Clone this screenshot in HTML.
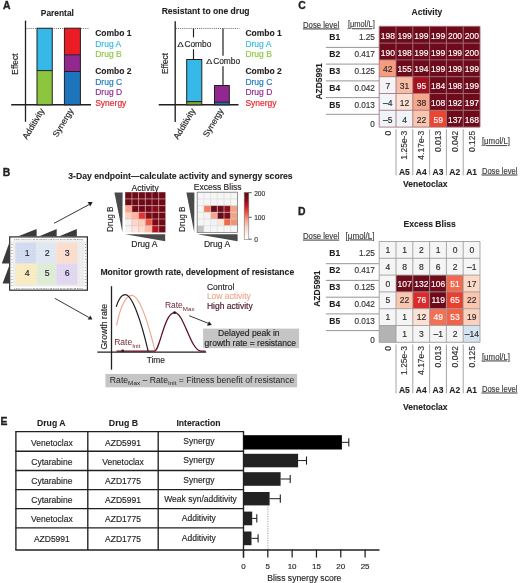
<!DOCTYPE html>
<html><head><meta charset="utf-8"><title>Figure</title>
<style>
html,body{margin:0;padding:0;background:#fff;}
body{width:520px;height:583px;overflow:hidden;}
svg{display:block;}
text{font-family:"Liberation Sans",Arial,Helvetica,sans-serif;}
</style></head>
<body>
<svg width="520" height="583" viewBox="0 0 520 583">
<rect width="520" height="583" fill="#ffffff"/>
<text x="2.90" y="8.90" font-size="10.4" font-weight="bold" fill="#231f20" stroke="#231f20" stroke-width="0.35">A</text>
<text x="40.80" y="15.90" font-size="8.5" font-weight="bold" fill="#231f20" stroke="#231f20" stroke-width="0.1" textLength="33.10" lengthAdjust="spacingAndGlyphs">Parental</text>
<line x1="25.50" y1="20.60" x2="25.50" y2="121.80" stroke="#231f20" stroke-width="1.3"/>
<line x1="11.20" y1="104.80" x2="91.00" y2="104.80" stroke="#231f20" stroke-width="1.4"/>
<line x1="26.50" y1="28.50" x2="89.40" y2="28.50" stroke="#444" stroke-width="0.8" stroke-dasharray="1 1.1"/>
<rect x="37.00" y="28.25" width="15.25" height="42.35" fill="#36b9e9"/>
<rect x="37.00" y="70.60" width="15.25" height="34.20" fill="#8cc63f"/>
<line x1="37.00" y1="70.60" x2="52.25" y2="70.60" stroke="#231f20" stroke-width="1.0"/>
<rect x="37.00" y="28.25" width="15.25" height="76.55" fill="none" stroke="#231f20" stroke-width="1.0"/>
<rect x="64.40" y="28.20" width="16.00" height="26.60" fill="#ec1c24"/>
<rect x="64.40" y="54.80" width="16.00" height="16.70" fill="#92278f"/>
<rect x="64.40" y="71.50" width="16.00" height="33.30" fill="#1c75bc"/>
<line x1="64.40" y1="54.80" x2="80.40" y2="54.80" stroke="#231f20" stroke-width="1.0"/>
<line x1="64.40" y1="71.50" x2="80.40" y2="71.50" stroke="#231f20" stroke-width="1.0"/>
<rect x="64.40" y="28.20" width="16.00" height="76.60" fill="none" stroke="#231f20" stroke-width="1.0"/>
<text x="18.00" y="64.10" font-size="8.3" fill="#231f20" stroke="#231f20" stroke-width="0.15" text-anchor="middle" transform="rotate(-90 18.00 64.10)">Effect</text>
<text x="44.80" y="110.60" font-size="8.6" fill="#231f20" stroke="#231f20" stroke-width="0.15" text-anchor="end" transform="rotate(-59 44.80 110.60)">Additivity</text>
<text x="73.60" y="110.60" font-size="8.6" fill="#231f20" stroke="#231f20" stroke-width="0.15" text-anchor="end" transform="rotate(-59 73.60 110.60)">Synergy</text>
<text x="161.70" y="14.40" font-size="8.5" font-weight="bold" fill="#231f20" stroke="#231f20" stroke-width="0.1" textLength="87.90" lengthAdjust="spacingAndGlyphs">Resistant to one drug</text>
<line x1="175.20" y1="21.20" x2="175.20" y2="122.00" stroke="#231f20" stroke-width="1.35"/>
<line x1="158.70" y1="104.80" x2="238.50" y2="104.80" stroke="#231f20" stroke-width="1.4"/>
<line x1="176.00" y1="28.50" x2="239.40" y2="28.50" stroke="#444" stroke-width="0.8" stroke-dasharray="1 1.1"/>
<rect x="186.70" y="59.50" width="15.10" height="45.30" fill="#36b9e9"/>
<rect x="186.70" y="101.60" width="15.10" height="3.20" fill="#7fae3a"/>
<line x1="186.70" y1="101.60" x2="201.80" y2="101.60" stroke="#231f20" stroke-width="1.1"/>
<rect x="186.70" y="59.50" width="15.10" height="45.30" fill="none" stroke="#231f20" stroke-width="1.0"/>
<rect x="214.50" y="85.50" width="14.80" height="19.30" fill="#92278f"/>
<rect x="214.50" y="102.20" width="14.80" height="2.60" fill="#1c75bc"/>
<line x1="214.50" y1="102.20" x2="229.30" y2="102.20" stroke="#231f20" stroke-width="0.9"/>
<rect x="214.50" y="85.50" width="14.80" height="19.30" fill="none" stroke="#231f20" stroke-width="1.0"/>
<line x1="193.50" y1="28.50" x2="193.50" y2="37.40" stroke="#231f20" stroke-width="1.15"/>
<line x1="193.50" y1="49.30" x2="193.50" y2="59.00" stroke="#231f20" stroke-width="1.15"/>
<line x1="223.00" y1="28.50" x2="223.00" y2="55.80" stroke="#231f20" stroke-width="1.2"/>
<line x1="223.00" y1="66.30" x2="223.00" y2="85.00" stroke="#231f20" stroke-width="1.2"/>
<text transform="translate(177.3 47.0) scale(1.28 0.85)" font-size="7.6" fill="#231f20" stroke="#231f20" stroke-width="0.1">Δ</text>
<text x="184.40" y="47.10" font-size="8.6" fill="#231f20" stroke="#231f20" stroke-width="0.15" textLength="26.90" lengthAdjust="spacingAndGlyphs">Combo</text>
<text transform="translate(206.0 64.0) scale(1.28 0.85)" font-size="7.6" fill="#231f20" stroke="#231f20" stroke-width="0.1">Δ</text>
<text x="213.20" y="64.00" font-size="8.6" fill="#231f20" stroke="#231f20" stroke-width="0.15" textLength="26.90" lengthAdjust="spacingAndGlyphs">Combo</text>
<text x="167.60" y="63.50" font-size="8.3" fill="#231f20" stroke="#231f20" stroke-width="0.15" text-anchor="middle" transform="rotate(-90 167.60 63.50)">Effect</text>
<text x="195.80" y="110.60" font-size="8.6" fill="#231f20" stroke="#231f20" stroke-width="0.15" text-anchor="end" transform="rotate(-59 195.80 110.60)">Additivity</text>
<text x="223.80" y="110.60" font-size="8.6" fill="#231f20" stroke="#231f20" stroke-width="0.15" text-anchor="end" transform="rotate(-59 223.80 110.60)">Synergy</text>
<text x="95.20" y="36.00" font-size="8.5" font-weight="bold" fill="#231f20" stroke="#231f20" stroke-width="0.1">Combo 1</text>
<text x="95.20" y="46.80" font-size="8.5" fill="#36b9e9" stroke="#36b9e9" stroke-width="0.15">Drug A</text>
<text x="95.20" y="57.20" font-size="8.5" fill="#8cc63f" stroke="#8cc63f" stroke-width="0.15">Drug B</text>
<text x="95.20" y="74.10" font-size="8.5" font-weight="bold" fill="#231f20" stroke="#231f20" stroke-width="0.1">Combo 2</text>
<text x="95.20" y="84.50" font-size="8.5" fill="#1c75bc" stroke="#1c75bc" stroke-width="0.15">Drug C</text>
<text x="95.20" y="95.40" font-size="8.5" fill="#92278f" stroke="#92278f" stroke-width="0.15">Drug D</text>
<text x="95.20" y="105.90" font-size="8.5" fill="#ec1c24" stroke="#ec1c24" stroke-width="0.15">Synergy</text>
<text x="245.40" y="36.00" font-size="8.5" font-weight="bold" fill="#231f20" stroke="#231f20" stroke-width="0.1">Combo 1</text>
<text x="245.40" y="46.80" font-size="8.5" fill="#36b9e9" stroke="#36b9e9" stroke-width="0.15">Drug A</text>
<text x="245.40" y="57.20" font-size="8.5" fill="#8cc63f" stroke="#8cc63f" stroke-width="0.15">Drug B</text>
<text x="245.40" y="74.10" font-size="8.5" font-weight="bold" fill="#231f20" stroke="#231f20" stroke-width="0.1">Combo 2</text>
<text x="245.40" y="84.50" font-size="8.5" fill="#1c75bc" stroke="#1c75bc" stroke-width="0.15">Drug C</text>
<text x="245.40" y="95.40" font-size="8.5" fill="#92278f" stroke="#92278f" stroke-width="0.15">Drug D</text>
<text x="245.40" y="105.90" font-size="8.5" fill="#ec1c24" stroke="#ec1c24" stroke-width="0.15">Synergy</text>
<text x="298.30" y="9.00" font-size="10.4" font-weight="bold" fill="#231f20" stroke="#231f20" stroke-width="0.35">C</text>
<text x="411.50" y="14.60" font-size="8.5" font-weight="bold" fill="#231f20" stroke="#231f20" stroke-width="0.1" textLength="30.80" lengthAdjust="spacingAndGlyphs">Activity</text>
<text x="303.00" y="27.50" font-size="8.2" fill="#3c3c3c" stroke="#3c3c3c" stroke-width="0.15" textLength="36.20" lengthAdjust="spacingAndGlyphs" text-decoration="underline">Dose level</text>
<text x="347.90" y="27.30" font-size="8.2" fill="#3c3c3c" stroke="#3c3c3c" stroke-width="0.15" textLength="27.00" lengthAdjust="spacingAndGlyphs" text-decoration="underline">[μmol/L]</text>
<text x="329.30" y="39.80" font-size="8.5" font-weight="bold" fill="#231f20" stroke="#231f20" stroke-width="0.1">B1</text>
<text x="374.90" y="40.10" font-size="8.2" fill="#333333" stroke="#333333" stroke-width="0.15" text-anchor="end">1.25</text>
<text x="329.30" y="56.80" font-size="8.5" font-weight="bold" fill="#231f20" stroke="#231f20" stroke-width="0.1">B2</text>
<text x="374.90" y="57.10" font-size="8.2" fill="#333333" stroke="#333333" stroke-width="0.15" text-anchor="end">0.417</text>
<text x="329.30" y="73.60" font-size="8.5" font-weight="bold" fill="#231f20" stroke="#231f20" stroke-width="0.1">B3</text>
<text x="374.90" y="73.90" font-size="8.2" fill="#333333" stroke="#333333" stroke-width="0.15" text-anchor="end">0.125</text>
<text x="329.30" y="90.60" font-size="8.5" font-weight="bold" fill="#231f20" stroke="#231f20" stroke-width="0.1">B4</text>
<text x="374.90" y="90.90" font-size="8.2" fill="#333333" stroke="#333333" stroke-width="0.15" text-anchor="end">0.042</text>
<text x="329.30" y="107.50" font-size="8.5" font-weight="bold" fill="#231f20" stroke="#231f20" stroke-width="0.1">B5</text>
<text x="374.90" y="107.80" font-size="8.2" fill="#333333" stroke="#333333" stroke-width="0.15" text-anchor="end">0.013</text>
<text x="374.90" y="126.60" font-size="8.2" fill="#333333" stroke="#333333" stroke-width="0.15" text-anchor="end">0</text>
<line x1="325.90" y1="47.40" x2="379.00" y2="47.40" stroke="#8a8a8a" stroke-width="0.9"/>
<line x1="325.90" y1="64.10" x2="379.00" y2="64.10" stroke="#8a8a8a" stroke-width="0.9"/>
<line x1="325.90" y1="80.90" x2="379.00" y2="80.90" stroke="#8a8a8a" stroke-width="0.9"/>
<line x1="325.90" y1="97.60" x2="379.00" y2="97.60" stroke="#8a8a8a" stroke-width="0.9"/>
<line x1="325.90" y1="114.30" x2="379.00" y2="114.30" stroke="#8a8a8a" stroke-width="0.9"/>
<text x="321.60" y="81.40" font-size="8.5" font-weight="bold" fill="#231f20" stroke="#231f20" stroke-width="0.1" text-anchor="middle" transform="rotate(-90 321.60 81.40)">AZD5991</text>
<rect x="379.20" y="26.30" width="16.85" height="16.85" fill="#6e0b1b"/>
<rect x="396.00" y="26.30" width="16.85" height="16.85" fill="#6e0b1b"/>
<rect x="412.80" y="26.30" width="16.85" height="16.85" fill="#6e0b1b"/>
<rect x="429.60" y="26.30" width="16.85" height="16.85" fill="#6e0b1b"/>
<rect x="446.40" y="26.30" width="16.85" height="16.85" fill="#6e0b1b"/>
<rect x="463.20" y="26.30" width="16.85" height="16.85" fill="#6e0b1b"/>
<rect x="379.20" y="43.10" width="16.85" height="16.85" fill="#6e0b1b"/>
<rect x="396.00" y="43.10" width="16.85" height="16.85" fill="#6e0b1b"/>
<rect x="412.80" y="43.10" width="16.85" height="16.85" fill="#6e0b1b"/>
<rect x="429.60" y="43.10" width="16.85" height="16.85" fill="#6e0b1b"/>
<rect x="446.40" y="43.10" width="16.85" height="16.85" fill="#6e0b1b"/>
<rect x="463.20" y="43.10" width="16.85" height="16.85" fill="#6e0b1b"/>
<rect x="379.20" y="59.90" width="16.85" height="16.85" fill="#f59c7e"/>
<rect x="396.00" y="59.90" width="16.85" height="16.85" fill="#6e0b1b"/>
<rect x="412.80" y="59.90" width="16.85" height="16.85" fill="#6e0b1b"/>
<rect x="429.60" y="59.90" width="16.85" height="16.85" fill="#6e0b1b"/>
<rect x="446.40" y="59.90" width="16.85" height="16.85" fill="#6e0b1b"/>
<rect x="463.20" y="59.90" width="16.85" height="16.85" fill="#6e0b1b"/>
<rect x="379.20" y="76.70" width="16.85" height="16.85" fill="#f4f4f6"/>
<rect x="396.00" y="76.70" width="16.85" height="16.85" fill="#f8bca4"/>
<rect x="412.80" y="76.70" width="16.85" height="16.85" fill="#a5121f"/>
<rect x="429.60" y="76.70" width="16.85" height="16.85" fill="#6e0b1b"/>
<rect x="446.40" y="76.70" width="16.85" height="16.85" fill="#6e0b1b"/>
<rect x="463.20" y="76.70" width="16.85" height="16.85" fill="#6e0b1b"/>
<rect x="379.20" y="93.50" width="16.85" height="16.85" fill="#f1f4f9"/>
<rect x="396.00" y="93.50" width="16.85" height="16.85" fill="#fde1d5"/>
<rect x="412.80" y="93.50" width="16.85" height="16.85" fill="#f5a68b"/>
<rect x="429.60" y="93.50" width="16.85" height="16.85" fill="#700c1b"/>
<rect x="446.40" y="93.50" width="16.85" height="16.85" fill="#6e0b1b"/>
<rect x="463.20" y="93.50" width="16.85" height="16.85" fill="#6e0b1b"/>
<rect x="379.20" y="110.30" width="16.85" height="16.85" fill="#f0f4f9"/>
<rect x="396.00" y="110.30" width="16.85" height="16.85" fill="#f0f4f9"/>
<rect x="412.80" y="110.30" width="16.85" height="16.85" fill="#fac6b0"/>
<rect x="429.60" y="110.30" width="16.85" height="16.85" fill="#ea4631"/>
<rect x="446.40" y="110.30" width="16.85" height="16.85" fill="#6e0b1b"/>
<rect x="463.20" y="110.30" width="16.85" height="16.85" fill="#6e0b1b"/>
<line x1="379.20" y1="26.30" x2="379.20" y2="127.10" stroke="#a07078" stroke-width="1.0" stroke-opacity="0.85"/>
<line x1="396.00" y1="26.30" x2="396.00" y2="127.10" stroke="#a07078" stroke-width="1.0" stroke-opacity="0.85"/>
<line x1="412.80" y1="26.30" x2="412.80" y2="127.10" stroke="#a07078" stroke-width="1.0" stroke-opacity="0.85"/>
<line x1="429.60" y1="26.30" x2="429.60" y2="127.10" stroke="#a07078" stroke-width="1.0" stroke-opacity="0.85"/>
<line x1="446.40" y1="26.30" x2="446.40" y2="127.10" stroke="#a07078" stroke-width="1.0" stroke-opacity="0.85"/>
<line x1="463.20" y1="26.30" x2="463.20" y2="127.10" stroke="#a07078" stroke-width="1.0" stroke-opacity="0.85"/>
<line x1="480.00" y1="26.30" x2="480.00" y2="127.10" stroke="#a07078" stroke-width="1.0" stroke-opacity="0.85"/>
<line x1="379.20" y1="26.30" x2="480.00" y2="26.30" stroke="#a07078" stroke-width="1.0" stroke-opacity="0.85"/>
<line x1="379.20" y1="43.10" x2="480.00" y2="43.10" stroke="#a07078" stroke-width="1.0" stroke-opacity="0.85"/>
<line x1="379.20" y1="59.90" x2="480.00" y2="59.90" stroke="#a07078" stroke-width="1.0" stroke-opacity="0.85"/>
<line x1="379.20" y1="76.70" x2="480.00" y2="76.70" stroke="#a07078" stroke-width="1.0" stroke-opacity="0.85"/>
<line x1="379.20" y1="93.50" x2="480.00" y2="93.50" stroke="#a07078" stroke-width="1.0" stroke-opacity="0.85"/>
<line x1="379.20" y1="110.30" x2="480.00" y2="110.30" stroke="#a07078" stroke-width="1.0" stroke-opacity="0.85"/>
<line x1="379.20" y1="127.10" x2="480.00" y2="127.10" stroke="#a07078" stroke-width="1.0" stroke-opacity="0.85"/>
<text x="387.80" y="38.70" font-size="8.5" fill="#ffffff" stroke="#ffffff" stroke-width="0.15" text-anchor="middle">198</text>
<text x="404.60" y="38.70" font-size="8.5" fill="#ffffff" stroke="#ffffff" stroke-width="0.15" text-anchor="middle">199</text>
<text x="421.40" y="38.70" font-size="8.5" fill="#ffffff" stroke="#ffffff" stroke-width="0.15" text-anchor="middle">199</text>
<text x="438.20" y="38.70" font-size="8.5" fill="#ffffff" stroke="#ffffff" stroke-width="0.15" text-anchor="middle">199</text>
<text x="455.00" y="38.70" font-size="8.5" fill="#ffffff" stroke="#ffffff" stroke-width="0.15" text-anchor="middle">200</text>
<text x="471.80" y="38.70" font-size="8.5" fill="#ffffff" stroke="#ffffff" stroke-width="0.15" text-anchor="middle">200</text>
<text x="387.80" y="55.50" font-size="8.5" fill="#ffffff" stroke="#ffffff" stroke-width="0.15" text-anchor="middle">190</text>
<text x="404.60" y="55.50" font-size="8.5" fill="#ffffff" stroke="#ffffff" stroke-width="0.15" text-anchor="middle">198</text>
<text x="421.40" y="55.50" font-size="8.5" fill="#ffffff" stroke="#ffffff" stroke-width="0.15" text-anchor="middle">199</text>
<text x="438.20" y="55.50" font-size="8.5" fill="#ffffff" stroke="#ffffff" stroke-width="0.15" text-anchor="middle">199</text>
<text x="455.00" y="55.50" font-size="8.5" fill="#ffffff" stroke="#ffffff" stroke-width="0.15" text-anchor="middle">199</text>
<text x="471.80" y="55.50" font-size="8.5" fill="#ffffff" stroke="#ffffff" stroke-width="0.15" text-anchor="middle">200</text>
<text x="387.80" y="72.30" font-size="8.5" fill="#2b2b2b" stroke="#2b2b2b" stroke-width="0.15" text-anchor="middle">42</text>
<text x="404.60" y="72.30" font-size="8.5" fill="#ffffff" stroke="#ffffff" stroke-width="0.15" text-anchor="middle">155</text>
<text x="421.40" y="72.30" font-size="8.5" fill="#ffffff" stroke="#ffffff" stroke-width="0.15" text-anchor="middle">194</text>
<text x="438.20" y="72.30" font-size="8.5" fill="#ffffff" stroke="#ffffff" stroke-width="0.15" text-anchor="middle">199</text>
<text x="455.00" y="72.30" font-size="8.5" fill="#ffffff" stroke="#ffffff" stroke-width="0.15" text-anchor="middle">199</text>
<text x="471.80" y="72.30" font-size="8.5" fill="#ffffff" stroke="#ffffff" stroke-width="0.15" text-anchor="middle">199</text>
<text x="387.80" y="89.10" font-size="8.5" fill="#2b2b2b" stroke="#2b2b2b" stroke-width="0.15" text-anchor="middle">7</text>
<text x="404.60" y="89.10" font-size="8.5" fill="#2b2b2b" stroke="#2b2b2b" stroke-width="0.15" text-anchor="middle">31</text>
<text x="421.40" y="89.10" font-size="8.5" fill="#ffffff" stroke="#ffffff" stroke-width="0.15" text-anchor="middle">95</text>
<text x="438.20" y="89.10" font-size="8.5" fill="#ffffff" stroke="#ffffff" stroke-width="0.15" text-anchor="middle">184</text>
<text x="455.00" y="89.10" font-size="8.5" fill="#ffffff" stroke="#ffffff" stroke-width="0.15" text-anchor="middle">198</text>
<text x="471.80" y="89.10" font-size="8.5" fill="#ffffff" stroke="#ffffff" stroke-width="0.15" text-anchor="middle">199</text>
<text x="387.80" y="105.90" font-size="8.5" fill="#2b2b2b" stroke="#2b2b2b" stroke-width="0.15" text-anchor="middle">–4</text>
<text x="404.60" y="105.90" font-size="8.5" fill="#2b2b2b" stroke="#2b2b2b" stroke-width="0.15" text-anchor="middle">12</text>
<text x="421.40" y="105.90" font-size="8.5" fill="#2b2b2b" stroke="#2b2b2b" stroke-width="0.15" text-anchor="middle">38</text>
<text x="438.20" y="105.90" font-size="8.5" fill="#ffffff" stroke="#ffffff" stroke-width="0.15" text-anchor="middle">108</text>
<text x="455.00" y="105.90" font-size="8.5" fill="#ffffff" stroke="#ffffff" stroke-width="0.15" text-anchor="middle">192</text>
<text x="471.80" y="105.90" font-size="8.5" fill="#ffffff" stroke="#ffffff" stroke-width="0.15" text-anchor="middle">197</text>
<text x="387.80" y="122.70" font-size="8.5" fill="#2b2b2b" stroke="#2b2b2b" stroke-width="0.15" text-anchor="middle">–5</text>
<text x="404.60" y="122.70" font-size="8.5" fill="#2b2b2b" stroke="#2b2b2b" stroke-width="0.15" text-anchor="middle">4</text>
<text x="421.40" y="122.70" font-size="8.5" fill="#2b2b2b" stroke="#2b2b2b" stroke-width="0.15" text-anchor="middle">22</text>
<text x="438.20" y="122.70" font-size="8.5" fill="#ffffff" stroke="#ffffff" stroke-width="0.15" text-anchor="middle">59</text>
<text x="455.00" y="122.70" font-size="8.5" fill="#ffffff" stroke="#ffffff" stroke-width="0.15" text-anchor="middle">137</text>
<text x="471.80" y="122.70" font-size="8.5" fill="#ffffff" stroke="#ffffff" stroke-width="0.15" text-anchor="middle">168</text>
<text x="390.60" y="130.80" font-size="8.5" fill="#333333" stroke="#333333" stroke-width="0.15" text-anchor="end" transform="rotate(-90 390.60 130.80)">0</text>
<text x="407.40" y="130.80" font-size="8.5" fill="#333333" stroke="#333333" stroke-width="0.15" text-anchor="end" transform="rotate(-90 407.40 130.80)">1.25e-3</text>
<text x="424.20" y="130.80" font-size="8.5" fill="#333333" stroke="#333333" stroke-width="0.15" text-anchor="end" transform="rotate(-90 424.20 130.80)">4.17e-3</text>
<text x="441.00" y="130.80" font-size="8.5" fill="#333333" stroke="#333333" stroke-width="0.15" text-anchor="end" transform="rotate(-90 441.00 130.80)">0.013</text>
<text x="457.80" y="130.80" font-size="8.5" fill="#333333" stroke="#333333" stroke-width="0.15" text-anchor="end" transform="rotate(-90 457.80 130.80)">0.042</text>
<text x="474.60" y="130.80" font-size="8.5" fill="#333333" stroke="#333333" stroke-width="0.15" text-anchor="end" transform="rotate(-90 474.60 130.80)">0.125</text>
<line x1="396.00" y1="129.20" x2="396.00" y2="175.40" stroke="#9a9a9a" stroke-width="0.9"/>
<line x1="412.80" y1="129.20" x2="412.80" y2="175.40" stroke="#9a9a9a" stroke-width="0.9"/>
<line x1="429.60" y1="129.20" x2="429.60" y2="175.40" stroke="#9a9a9a" stroke-width="0.9"/>
<line x1="446.40" y1="129.20" x2="446.40" y2="175.40" stroke="#9a9a9a" stroke-width="0.9"/>
<line x1="463.20" y1="129.20" x2="463.20" y2="175.40" stroke="#9a9a9a" stroke-width="0.9"/>
<text x="404.40" y="174.60" font-size="8.5" font-weight="bold" fill="#231f20" stroke="#231f20" stroke-width="0.1" text-anchor="middle">A5</text>
<text x="421.20" y="174.60" font-size="8.5" font-weight="bold" fill="#231f20" stroke="#231f20" stroke-width="0.1" text-anchor="middle">A4</text>
<text x="438.00" y="174.60" font-size="8.5" font-weight="bold" fill="#231f20" stroke="#231f20" stroke-width="0.1" text-anchor="middle">A3</text>
<text x="454.80" y="174.60" font-size="8.5" font-weight="bold" fill="#231f20" stroke="#231f20" stroke-width="0.1" text-anchor="middle">A2</text>
<text x="471.60" y="174.60" font-size="8.5" font-weight="bold" fill="#231f20" stroke="#231f20" stroke-width="0.1" text-anchor="middle">A1</text>
<text x="481.90" y="144.20" font-size="8.2" fill="#3c3c3c" stroke="#3c3c3c" stroke-width="0.15" textLength="28.10" lengthAdjust="spacingAndGlyphs" text-decoration="underline">[μmol/L]</text>
<text x="481.90" y="173.60" font-size="8.2" fill="#3c3c3c" stroke="#3c3c3c" stroke-width="0.15" textLength="35.50" lengthAdjust="spacingAndGlyphs" text-decoration="underline">Dose level</text>
<text x="425.30" y="186.90" font-size="8.5" font-weight="bold" fill="#231f20" stroke="#231f20" stroke-width="0.1" text-anchor="middle" textLength="44.70" lengthAdjust="spacingAndGlyphs">Venetoclax</text>
<text x="298.00" y="215.30" font-size="10.4" font-weight="bold" fill="#231f20" stroke="#231f20" stroke-width="0.35">D</text>
<text x="403.50" y="226.50" font-size="8.5" font-weight="bold" fill="#231f20" stroke="#231f20" stroke-width="0.1" textLength="52.30" lengthAdjust="spacingAndGlyphs">Excess Bliss</text>
<text x="303.00" y="238.70" font-size="8.2" fill="#3c3c3c" stroke="#3c3c3c" stroke-width="0.15" textLength="36.20" lengthAdjust="spacingAndGlyphs" text-decoration="underline">Dose level</text>
<text x="345.60" y="238.50" font-size="8.2" fill="#3c3c3c" stroke="#3c3c3c" stroke-width="0.15" textLength="29.00" lengthAdjust="spacingAndGlyphs" text-decoration="underline">[μmol/L]</text>
<text x="329.30" y="256.10" font-size="8.5" font-weight="bold" fill="#231f20" stroke="#231f20" stroke-width="0.1">B1</text>
<text x="374.90" y="256.40" font-size="8.2" fill="#333333" stroke="#333333" stroke-width="0.15" text-anchor="end">1.25</text>
<text x="329.30" y="273.10" font-size="8.5" font-weight="bold" fill="#231f20" stroke="#231f20" stroke-width="0.1">B2</text>
<text x="374.90" y="273.40" font-size="8.2" fill="#333333" stroke="#333333" stroke-width="0.15" text-anchor="end">0.417</text>
<text x="329.30" y="289.90" font-size="8.5" font-weight="bold" fill="#231f20" stroke="#231f20" stroke-width="0.1">B3</text>
<text x="374.90" y="290.20" font-size="8.2" fill="#333333" stroke="#333333" stroke-width="0.15" text-anchor="end">0.125</text>
<text x="329.30" y="306.90" font-size="8.5" font-weight="bold" fill="#231f20" stroke="#231f20" stroke-width="0.1">B4</text>
<text x="374.90" y="307.20" font-size="8.2" fill="#333333" stroke="#333333" stroke-width="0.15" text-anchor="end">0.042</text>
<text x="329.30" y="323.80" font-size="8.5" font-weight="bold" fill="#231f20" stroke="#231f20" stroke-width="0.1">B5</text>
<text x="374.90" y="324.10" font-size="8.2" fill="#333333" stroke="#333333" stroke-width="0.15" text-anchor="end">0.013</text>
<text x="374.90" y="342.90" font-size="8.2" fill="#333333" stroke="#333333" stroke-width="0.15" text-anchor="end">0</text>
<line x1="325.90" y1="263.70" x2="379.00" y2="263.70" stroke="#8a8a8a" stroke-width="0.9"/>
<line x1="325.90" y1="280.40" x2="379.00" y2="280.40" stroke="#8a8a8a" stroke-width="0.9"/>
<line x1="325.90" y1="297.20" x2="379.00" y2="297.20" stroke="#8a8a8a" stroke-width="0.9"/>
<line x1="325.90" y1="313.90" x2="379.00" y2="313.90" stroke="#8a8a8a" stroke-width="0.9"/>
<line x1="325.90" y1="330.60" x2="379.00" y2="330.60" stroke="#8a8a8a" stroke-width="0.9"/>
<text x="320.00" y="288.60" font-size="8.5" font-weight="bold" fill="#231f20" stroke="#231f20" stroke-width="0.1" text-anchor="middle" transform="rotate(-90 320.00 288.60)">AZD5991</text>
<rect x="379.20" y="241.50" width="16.85" height="16.85" fill="#f5f5f5"/>
<rect x="396.00" y="241.50" width="16.85" height="16.85" fill="#f5f5f5"/>
<rect x="412.80" y="241.50" width="16.85" height="16.85" fill="#f5f5f5"/>
<rect x="429.60" y="241.50" width="16.85" height="16.85" fill="#f5f5f5"/>
<rect x="446.40" y="241.50" width="16.85" height="16.85" fill="#f5f5f5"/>
<rect x="463.20" y="241.50" width="16.85" height="16.85" fill="#f5f5f5"/>
<rect x="379.20" y="258.30" width="16.85" height="16.85" fill="#f5f5f5"/>
<rect x="396.00" y="258.30" width="16.85" height="16.85" fill="#f5f5f5"/>
<rect x="412.80" y="258.30" width="16.85" height="16.85" fill="#f5f5f5"/>
<rect x="429.60" y="258.30" width="16.85" height="16.85" fill="#f5f5f5"/>
<rect x="446.40" y="258.30" width="16.85" height="16.85" fill="#f5f5f5"/>
<rect x="463.20" y="258.30" width="16.85" height="16.85" fill="#f5f5f5"/>
<rect x="379.20" y="275.10" width="16.85" height="16.85" fill="#f5f5f5"/>
<rect x="396.00" y="275.10" width="16.85" height="16.85" fill="#710c1b"/>
<rect x="412.80" y="275.10" width="16.85" height="16.85" fill="#6e0b1b"/>
<rect x="429.60" y="275.10" width="16.85" height="16.85" fill="#720c1b"/>
<rect x="446.40" y="275.10" width="16.85" height="16.85" fill="#f16a50"/>
<rect x="463.20" y="275.10" width="16.85" height="16.85" fill="#fcd8c7"/>
<rect x="379.20" y="291.90" width="16.85" height="16.85" fill="#f5f5f5"/>
<rect x="396.00" y="291.90" width="16.85" height="16.85" fill="#fac6b0"/>
<rect x="412.80" y="291.90" width="16.85" height="16.85" fill="#dc2a2b"/>
<rect x="429.60" y="291.90" width="16.85" height="16.85" fill="#6e0b1b"/>
<rect x="446.40" y="291.90" width="16.85" height="16.85" fill="#e7402f"/>
<rect x="463.20" y="291.90" width="16.85" height="16.85" fill="#fac6b0"/>
<rect x="379.20" y="308.70" width="16.85" height="16.85" fill="#f5f5f5"/>
<rect x="396.00" y="308.70" width="16.85" height="16.85" fill="#f5f5f5"/>
<rect x="412.80" y="308.70" width="16.85" height="16.85" fill="#fde1d5"/>
<rect x="429.60" y="308.70" width="16.85" height="16.85" fill="#f27056"/>
<rect x="446.40" y="308.70" width="16.85" height="16.85" fill="#f06349"/>
<rect x="463.20" y="308.70" width="16.85" height="16.85" fill="#fbd1be"/>
<rect x="379.20" y="325.50" width="16.85" height="16.85" fill="#b3b3b3"/>
<rect x="396.00" y="325.50" width="16.85" height="16.85" fill="#f5f5f5"/>
<rect x="412.80" y="325.50" width="16.85" height="16.85" fill="#f5f5f5"/>
<rect x="429.60" y="325.50" width="16.85" height="16.85" fill="#f5f5f5"/>
<rect x="446.40" y="325.50" width="16.85" height="16.85" fill="#f5f5f5"/>
<rect x="463.20" y="325.50" width="16.85" height="16.85" fill="#d5e3f1"/>
<line x1="379.20" y1="241.50" x2="379.20" y2="342.30" stroke="#9a9a9a" stroke-width="1.0" stroke-opacity="0.85"/>
<line x1="396.00" y1="241.50" x2="396.00" y2="342.30" stroke="#9a9a9a" stroke-width="1.0" stroke-opacity="0.85"/>
<line x1="412.80" y1="241.50" x2="412.80" y2="342.30" stroke="#9a9a9a" stroke-width="1.0" stroke-opacity="0.85"/>
<line x1="429.60" y1="241.50" x2="429.60" y2="342.30" stroke="#9a9a9a" stroke-width="1.0" stroke-opacity="0.85"/>
<line x1="446.40" y1="241.50" x2="446.40" y2="342.30" stroke="#9a9a9a" stroke-width="1.0" stroke-opacity="0.85"/>
<line x1="463.20" y1="241.50" x2="463.20" y2="342.30" stroke="#9a9a9a" stroke-width="1.0" stroke-opacity="0.85"/>
<line x1="480.00" y1="241.50" x2="480.00" y2="342.30" stroke="#9a9a9a" stroke-width="1.0" stroke-opacity="0.85"/>
<line x1="379.20" y1="241.50" x2="480.00" y2="241.50" stroke="#9a9a9a" stroke-width="1.0" stroke-opacity="0.85"/>
<line x1="379.20" y1="258.30" x2="480.00" y2="258.30" stroke="#9a9a9a" stroke-width="1.0" stroke-opacity="0.85"/>
<line x1="379.20" y1="275.10" x2="480.00" y2="275.10" stroke="#9a9a9a" stroke-width="1.0" stroke-opacity="0.85"/>
<line x1="379.20" y1="291.90" x2="480.00" y2="291.90" stroke="#9a9a9a" stroke-width="1.0" stroke-opacity="0.85"/>
<line x1="379.20" y1="308.70" x2="480.00" y2="308.70" stroke="#9a9a9a" stroke-width="1.0" stroke-opacity="0.85"/>
<line x1="379.20" y1="325.50" x2="480.00" y2="325.50" stroke="#9a9a9a" stroke-width="1.0" stroke-opacity="0.85"/>
<line x1="379.20" y1="342.30" x2="480.00" y2="342.30" stroke="#9a9a9a" stroke-width="1.0" stroke-opacity="0.85"/>
<text x="387.80" y="252.90" font-size="8.5" fill="#2b2b2b" stroke="#2b2b2b" stroke-width="0.15" text-anchor="middle">1</text>
<text x="404.60" y="252.90" font-size="8.5" fill="#2b2b2b" stroke="#2b2b2b" stroke-width="0.15" text-anchor="middle">1</text>
<text x="421.40" y="252.90" font-size="8.5" fill="#2b2b2b" stroke="#2b2b2b" stroke-width="0.15" text-anchor="middle">2</text>
<text x="438.20" y="252.90" font-size="8.5" fill="#2b2b2b" stroke="#2b2b2b" stroke-width="0.15" text-anchor="middle">1</text>
<text x="455.00" y="252.90" font-size="8.5" fill="#2b2b2b" stroke="#2b2b2b" stroke-width="0.15" text-anchor="middle">0</text>
<text x="471.80" y="252.90" font-size="8.5" fill="#2b2b2b" stroke="#2b2b2b" stroke-width="0.15" text-anchor="middle">0</text>
<text x="387.80" y="269.70" font-size="8.5" fill="#2b2b2b" stroke="#2b2b2b" stroke-width="0.15" text-anchor="middle">4</text>
<text x="404.60" y="269.70" font-size="8.5" fill="#2b2b2b" stroke="#2b2b2b" stroke-width="0.15" text-anchor="middle">8</text>
<text x="421.40" y="269.70" font-size="8.5" fill="#2b2b2b" stroke="#2b2b2b" stroke-width="0.15" text-anchor="middle">8</text>
<text x="438.20" y="269.70" font-size="8.5" fill="#2b2b2b" stroke="#2b2b2b" stroke-width="0.15" text-anchor="middle">6</text>
<text x="455.00" y="269.70" font-size="8.5" fill="#2b2b2b" stroke="#2b2b2b" stroke-width="0.15" text-anchor="middle">2</text>
<text x="471.80" y="269.70" font-size="8.5" fill="#2b2b2b" stroke="#2b2b2b" stroke-width="0.15" text-anchor="middle">–1</text>
<text x="387.80" y="286.50" font-size="8.5" fill="#2b2b2b" stroke="#2b2b2b" stroke-width="0.15" text-anchor="middle">0</text>
<text x="404.60" y="286.50" font-size="8.5" fill="#ffffff" stroke="#ffffff" stroke-width="0.15" text-anchor="middle">107</text>
<text x="421.40" y="286.50" font-size="8.5" fill="#ffffff" stroke="#ffffff" stroke-width="0.15" text-anchor="middle">132</text>
<text x="438.20" y="286.50" font-size="8.5" fill="#ffffff" stroke="#ffffff" stroke-width="0.15" text-anchor="middle">106</text>
<text x="455.00" y="286.50" font-size="8.5" fill="#ffffff" stroke="#ffffff" stroke-width="0.15" text-anchor="middle">51</text>
<text x="471.80" y="286.50" font-size="8.5" fill="#2b2b2b" stroke="#2b2b2b" stroke-width="0.15" text-anchor="middle">17</text>
<text x="387.80" y="303.30" font-size="8.5" fill="#2b2b2b" stroke="#2b2b2b" stroke-width="0.15" text-anchor="middle">5</text>
<text x="404.60" y="303.30" font-size="8.5" fill="#2b2b2b" stroke="#2b2b2b" stroke-width="0.15" text-anchor="middle">22</text>
<text x="421.40" y="303.30" font-size="8.5" fill="#ffffff" stroke="#ffffff" stroke-width="0.15" text-anchor="middle">76</text>
<text x="438.20" y="303.30" font-size="8.5" fill="#ffffff" stroke="#ffffff" stroke-width="0.15" text-anchor="middle">119</text>
<text x="455.00" y="303.30" font-size="8.5" fill="#ffffff" stroke="#ffffff" stroke-width="0.15" text-anchor="middle">65</text>
<text x="471.80" y="303.30" font-size="8.5" fill="#2b2b2b" stroke="#2b2b2b" stroke-width="0.15" text-anchor="middle">22</text>
<text x="387.80" y="320.10" font-size="8.5" fill="#2b2b2b" stroke="#2b2b2b" stroke-width="0.15" text-anchor="middle">1</text>
<text x="404.60" y="320.10" font-size="8.5" fill="#2b2b2b" stroke="#2b2b2b" stroke-width="0.15" text-anchor="middle">1</text>
<text x="421.40" y="320.10" font-size="8.5" fill="#2b2b2b" stroke="#2b2b2b" stroke-width="0.15" text-anchor="middle">12</text>
<text x="438.20" y="320.10" font-size="8.5" fill="#ffffff" stroke="#ffffff" stroke-width="0.15" text-anchor="middle">49</text>
<text x="455.00" y="320.10" font-size="8.5" fill="#ffffff" stroke="#ffffff" stroke-width="0.15" text-anchor="middle">53</text>
<text x="471.80" y="320.10" font-size="8.5" fill="#2b2b2b" stroke="#2b2b2b" stroke-width="0.15" text-anchor="middle">19</text>
<text x="404.60" y="336.90" font-size="8.5" fill="#2b2b2b" stroke="#2b2b2b" stroke-width="0.15" text-anchor="middle">1</text>
<text x="421.40" y="336.90" font-size="8.5" fill="#2b2b2b" stroke="#2b2b2b" stroke-width="0.15" text-anchor="middle">3</text>
<text x="438.20" y="336.90" font-size="8.5" fill="#2b2b2b" stroke="#2b2b2b" stroke-width="0.15" text-anchor="middle">–1</text>
<text x="455.00" y="336.90" font-size="8.5" fill="#2b2b2b" stroke="#2b2b2b" stroke-width="0.15" text-anchor="middle">2</text>
<text x="471.80" y="336.90" font-size="8.5" fill="#2b2b2b" stroke="#2b2b2b" stroke-width="0.15" text-anchor="middle">–14</text>
<text x="390.60" y="346.10" font-size="8.5" fill="#333333" stroke="#333333" stroke-width="0.15" text-anchor="end" transform="rotate(-90 390.60 346.10)">0</text>
<text x="407.40" y="346.10" font-size="8.5" fill="#333333" stroke="#333333" stroke-width="0.15" text-anchor="end" transform="rotate(-90 407.40 346.10)">1.25e-3</text>
<text x="424.20" y="346.10" font-size="8.5" fill="#333333" stroke="#333333" stroke-width="0.15" text-anchor="end" transform="rotate(-90 424.20 346.10)">4.17e-3</text>
<text x="441.00" y="346.10" font-size="8.5" fill="#333333" stroke="#333333" stroke-width="0.15" text-anchor="end" transform="rotate(-90 441.00 346.10)">0.013</text>
<text x="457.80" y="346.10" font-size="8.5" fill="#333333" stroke="#333333" stroke-width="0.15" text-anchor="end" transform="rotate(-90 457.80 346.10)">0.042</text>
<text x="474.60" y="346.10" font-size="8.5" fill="#333333" stroke="#333333" stroke-width="0.15" text-anchor="end" transform="rotate(-90 474.60 346.10)">0.125</text>
<line x1="396.00" y1="344.50" x2="396.00" y2="393.40" stroke="#9a9a9a" stroke-width="0.9"/>
<line x1="412.80" y1="344.50" x2="412.80" y2="393.40" stroke="#9a9a9a" stroke-width="0.9"/>
<line x1="429.60" y1="344.50" x2="429.60" y2="393.40" stroke="#9a9a9a" stroke-width="0.9"/>
<line x1="446.40" y1="344.50" x2="446.40" y2="393.40" stroke="#9a9a9a" stroke-width="0.9"/>
<line x1="463.20" y1="344.50" x2="463.20" y2="393.40" stroke="#9a9a9a" stroke-width="0.9"/>
<text x="404.40" y="392.60" font-size="8.5" font-weight="bold" fill="#231f20" stroke="#231f20" stroke-width="0.1" text-anchor="middle">A5</text>
<text x="421.20" y="392.60" font-size="8.5" font-weight="bold" fill="#231f20" stroke="#231f20" stroke-width="0.1" text-anchor="middle">A4</text>
<text x="438.00" y="392.60" font-size="8.5" font-weight="bold" fill="#231f20" stroke="#231f20" stroke-width="0.1" text-anchor="middle">A3</text>
<text x="454.80" y="392.60" font-size="8.5" font-weight="bold" fill="#231f20" stroke="#231f20" stroke-width="0.1" text-anchor="middle">A2</text>
<text x="471.60" y="392.60" font-size="8.5" font-weight="bold" fill="#231f20" stroke="#231f20" stroke-width="0.1" text-anchor="middle">A1</text>
<text x="481.90" y="359.50" font-size="8.2" fill="#3c3c3c" stroke="#3c3c3c" stroke-width="0.15" textLength="28.10" lengthAdjust="spacingAndGlyphs" text-decoration="underline">[μmol/L]</text>
<text x="481.90" y="391.60" font-size="8.2" fill="#3c3c3c" stroke="#3c3c3c" stroke-width="0.15" textLength="35.50" lengthAdjust="spacingAndGlyphs" text-decoration="underline">Dose level</text>
<text x="425.30" y="409.50" font-size="8.5" font-weight="bold" fill="#231f20" stroke="#231f20" stroke-width="0.1" text-anchor="middle" textLength="44.70" lengthAdjust="spacingAndGlyphs">Venetoclax</text>
<text x="2.70" y="175.50" font-size="10.4" font-weight="bold" fill="#231f20" stroke="#231f20" stroke-width="0.35">B</text>
<text x="68.30" y="178.50" font-size="8.6" font-weight="bold" fill="#231f20" stroke="#231f20" stroke-width="0.1" textLength="224.40" lengthAdjust="spacingAndGlyphs">3-Day endpoint—calculate activity and synergy scores</text>
<line x1="54.10" y1="223.30" x2="89.00" y2="204.60" stroke="#231f20" stroke-width="0.9"/>
<polygon points="87.70,202.10 92.70,202.10 90.20,206.60" fill="#231f20"/>
<polygon points="18.30,236.30 36.60,229.00 36.60,236.30" fill="#3a3a3a"/>
<polygon points="39.30,236.30 56.70,229.00 56.70,236.30" fill="#3a3a3a"/>
<polygon points="59.40,236.30 76.80,229.00 76.80,236.30" fill="#3a3a3a"/>
<polygon points="9.10,243.20 1.80,263.60 9.10,263.60" fill="#3a3a3a"/>
<polygon points="9.10,266.00 2.60,283.60 9.10,283.60" fill="#3a3a3a"/>
<rect x="9.70" y="236.90" width="77.70" height="53.30" fill="#ffffff" stroke="#2a2a2a" stroke-width="1.2"/>
<g stroke="#b0b0b0" stroke-width="0.35" stroke-opacity="0.5">
<line x1="13.40" y1="240.6" x2="13.40" y2="286.8"/>
<line x1="14.90" y1="240.6" x2="14.90" y2="286.8"/>
<line x1="16.40" y1="240.6" x2="16.40" y2="286.8"/>
<line x1="17.90" y1="240.6" x2="17.90" y2="286.8"/>
<line x1="19.40" y1="240.6" x2="19.40" y2="286.8"/>
<line x1="20.90" y1="240.6" x2="20.90" y2="286.8"/>
<line x1="22.40" y1="240.6" x2="22.40" y2="286.8"/>
<line x1="23.90" y1="240.6" x2="23.90" y2="286.8"/>
<line x1="25.40" y1="240.6" x2="25.40" y2="286.8"/>
<line x1="26.90" y1="240.6" x2="26.90" y2="286.8"/>
<line x1="28.40" y1="240.6" x2="28.40" y2="286.8"/>
<line x1="29.90" y1="240.6" x2="29.90" y2="286.8"/>
<line x1="31.40" y1="240.6" x2="31.40" y2="286.8"/>
<line x1="32.90" y1="240.6" x2="32.90" y2="286.8"/>
<line x1="34.40" y1="240.6" x2="34.40" y2="286.8"/>
<line x1="35.90" y1="240.6" x2="35.90" y2="286.8"/>
<line x1="37.40" y1="240.6" x2="37.40" y2="286.8"/>
<line x1="38.90" y1="240.6" x2="38.90" y2="286.8"/>
<line x1="40.40" y1="240.6" x2="40.40" y2="286.8"/>
<line x1="41.90" y1="240.6" x2="41.90" y2="286.8"/>
<line x1="43.40" y1="240.6" x2="43.40" y2="286.8"/>
<line x1="44.90" y1="240.6" x2="44.90" y2="286.8"/>
<line x1="46.40" y1="240.6" x2="46.40" y2="286.8"/>
<line x1="47.90" y1="240.6" x2="47.90" y2="286.8"/>
<line x1="49.40" y1="240.6" x2="49.40" y2="286.8"/>
<line x1="50.90" y1="240.6" x2="50.90" y2="286.8"/>
<line x1="52.40" y1="240.6" x2="52.40" y2="286.8"/>
<line x1="53.90" y1="240.6" x2="53.90" y2="286.8"/>
<line x1="55.40" y1="240.6" x2="55.40" y2="286.8"/>
<line x1="56.90" y1="240.6" x2="56.90" y2="286.8"/>
<line x1="58.40" y1="240.6" x2="58.40" y2="286.8"/>
<line x1="59.90" y1="240.6" x2="59.90" y2="286.8"/>
<line x1="61.40" y1="240.6" x2="61.40" y2="286.8"/>
<line x1="62.90" y1="240.6" x2="62.90" y2="286.8"/>
<line x1="64.40" y1="240.6" x2="64.40" y2="286.8"/>
<line x1="65.90" y1="240.6" x2="65.90" y2="286.8"/>
<line x1="67.40" y1="240.6" x2="67.40" y2="286.8"/>
<line x1="68.90" y1="240.6" x2="68.90" y2="286.8"/>
<line x1="70.40" y1="240.6" x2="70.40" y2="286.8"/>
<line x1="71.90" y1="240.6" x2="71.90" y2="286.8"/>
<line x1="73.40" y1="240.6" x2="73.40" y2="286.8"/>
<line x1="74.90" y1="240.6" x2="74.90" y2="286.8"/>
<line x1="76.40" y1="240.6" x2="76.40" y2="286.8"/>
<line x1="77.90" y1="240.6" x2="77.90" y2="286.8"/>
<line x1="79.40" y1="240.6" x2="79.40" y2="286.8"/>
<line x1="80.90" y1="240.6" x2="80.90" y2="286.8"/>
<line x1="82.40" y1="240.6" x2="82.40" y2="286.8"/>
<line x1="83.90" y1="240.6" x2="83.90" y2="286.8"/>
<line x1="13.4" y1="240.60" x2="84.2" y2="240.60"/>
<line x1="13.4" y1="242.10" x2="84.2" y2="242.10"/>
<line x1="13.4" y1="243.60" x2="84.2" y2="243.60"/>
<line x1="13.4" y1="245.10" x2="84.2" y2="245.10"/>
<line x1="13.4" y1="246.60" x2="84.2" y2="246.60"/>
<line x1="13.4" y1="248.10" x2="84.2" y2="248.10"/>
<line x1="13.4" y1="249.60" x2="84.2" y2="249.60"/>
<line x1="13.4" y1="251.10" x2="84.2" y2="251.10"/>
<line x1="13.4" y1="252.60" x2="84.2" y2="252.60"/>
<line x1="13.4" y1="254.10" x2="84.2" y2="254.10"/>
<line x1="13.4" y1="255.60" x2="84.2" y2="255.60"/>
<line x1="13.4" y1="257.10" x2="84.2" y2="257.10"/>
<line x1="13.4" y1="258.60" x2="84.2" y2="258.60"/>
<line x1="13.4" y1="260.10" x2="84.2" y2="260.10"/>
<line x1="13.4" y1="261.60" x2="84.2" y2="261.60"/>
<line x1="13.4" y1="263.10" x2="84.2" y2="263.10"/>
<line x1="13.4" y1="264.60" x2="84.2" y2="264.60"/>
<line x1="13.4" y1="266.10" x2="84.2" y2="266.10"/>
<line x1="13.4" y1="267.60" x2="84.2" y2="267.60"/>
<line x1="13.4" y1="269.10" x2="84.2" y2="269.10"/>
<line x1="13.4" y1="270.60" x2="84.2" y2="270.60"/>
<line x1="13.4" y1="272.10" x2="84.2" y2="272.10"/>
<line x1="13.4" y1="273.60" x2="84.2" y2="273.60"/>
<line x1="13.4" y1="275.10" x2="84.2" y2="275.10"/>
<line x1="13.4" y1="276.60" x2="84.2" y2="276.60"/>
<line x1="13.4" y1="278.10" x2="84.2" y2="278.10"/>
<line x1="13.4" y1="279.60" x2="84.2" y2="279.60"/>
<line x1="13.4" y1="281.10" x2="84.2" y2="281.10"/>
<line x1="13.4" y1="282.60" x2="84.2" y2="282.60"/>
<line x1="13.4" y1="284.10" x2="84.2" y2="284.10"/>
<line x1="13.4" y1="285.60" x2="84.2" y2="285.60"/>
</g>
<rect x="15.50" y="242.60" width="20.90" height="21.00" fill="#c7d1ec"/>
<rect x="36.40" y="242.60" width="19.90" height="21.00" fill="#d8e3ef"/>
<rect x="56.30" y="242.60" width="21.20" height="21.00" fill="#f9d6c2"/>
<rect x="15.50" y="263.60" width="20.90" height="21.00" fill="#f9e7b3"/>
<rect x="36.40" y="263.60" width="19.90" height="21.00" fill="#d7e9cb"/>
<rect x="56.30" y="263.60" width="21.20" height="21.00" fill="#dccdee"/>
<g stroke="#ffffff" stroke-width="0.4" stroke-opacity="0.45">
<line x1="16.25" y1="242.6" x2="16.25" y2="284.6"/>
<line x1="17.75" y1="242.6" x2="17.75" y2="284.6"/>
<line x1="19.25" y1="242.6" x2="19.25" y2="284.6"/>
<line x1="20.75" y1="242.6" x2="20.75" y2="284.6"/>
<line x1="22.25" y1="242.6" x2="22.25" y2="284.6"/>
<line x1="23.75" y1="242.6" x2="23.75" y2="284.6"/>
<line x1="25.25" y1="242.6" x2="25.25" y2="284.6"/>
<line x1="26.75" y1="242.6" x2="26.75" y2="284.6"/>
<line x1="28.25" y1="242.6" x2="28.25" y2="284.6"/>
<line x1="29.75" y1="242.6" x2="29.75" y2="284.6"/>
<line x1="31.25" y1="242.6" x2="31.25" y2="284.6"/>
<line x1="32.75" y1="242.6" x2="32.75" y2="284.6"/>
<line x1="34.25" y1="242.6" x2="34.25" y2="284.6"/>
<line x1="35.75" y1="242.6" x2="35.75" y2="284.6"/>
<line x1="37.25" y1="242.6" x2="37.25" y2="284.6"/>
<line x1="38.75" y1="242.6" x2="38.75" y2="284.6"/>
<line x1="40.25" y1="242.6" x2="40.25" y2="284.6"/>
<line x1="41.75" y1="242.6" x2="41.75" y2="284.6"/>
<line x1="43.25" y1="242.6" x2="43.25" y2="284.6"/>
<line x1="44.75" y1="242.6" x2="44.75" y2="284.6"/>
<line x1="46.25" y1="242.6" x2="46.25" y2="284.6"/>
<line x1="47.75" y1="242.6" x2="47.75" y2="284.6"/>
<line x1="49.25" y1="242.6" x2="49.25" y2="284.6"/>
<line x1="50.75" y1="242.6" x2="50.75" y2="284.6"/>
<line x1="52.25" y1="242.6" x2="52.25" y2="284.6"/>
<line x1="53.75" y1="242.6" x2="53.75" y2="284.6"/>
<line x1="55.25" y1="242.6" x2="55.25" y2="284.6"/>
<line x1="56.75" y1="242.6" x2="56.75" y2="284.6"/>
<line x1="58.25" y1="242.6" x2="58.25" y2="284.6"/>
<line x1="59.75" y1="242.6" x2="59.75" y2="284.6"/>
<line x1="61.25" y1="242.6" x2="61.25" y2="284.6"/>
<line x1="62.75" y1="242.6" x2="62.75" y2="284.6"/>
<line x1="64.25" y1="242.6" x2="64.25" y2="284.6"/>
<line x1="65.75" y1="242.6" x2="65.75" y2="284.6"/>
<line x1="67.25" y1="242.6" x2="67.25" y2="284.6"/>
<line x1="68.75" y1="242.6" x2="68.75" y2="284.6"/>
<line x1="70.25" y1="242.6" x2="70.25" y2="284.6"/>
<line x1="71.75" y1="242.6" x2="71.75" y2="284.6"/>
<line x1="73.25" y1="242.6" x2="73.25" y2="284.6"/>
<line x1="74.75" y1="242.6" x2="74.75" y2="284.6"/>
<line x1="76.25" y1="242.6" x2="76.25" y2="284.6"/>
<line x1="15.5" y1="243.35" x2="77.5" y2="243.35"/>
<line x1="15.5" y1="244.85" x2="77.5" y2="244.85"/>
<line x1="15.5" y1="246.35" x2="77.5" y2="246.35"/>
<line x1="15.5" y1="247.85" x2="77.5" y2="247.85"/>
<line x1="15.5" y1="249.35" x2="77.5" y2="249.35"/>
<line x1="15.5" y1="250.85" x2="77.5" y2="250.85"/>
<line x1="15.5" y1="252.35" x2="77.5" y2="252.35"/>
<line x1="15.5" y1="253.85" x2="77.5" y2="253.85"/>
<line x1="15.5" y1="255.35" x2="77.5" y2="255.35"/>
<line x1="15.5" y1="256.85" x2="77.5" y2="256.85"/>
<line x1="15.5" y1="258.35" x2="77.5" y2="258.35"/>
<line x1="15.5" y1="259.85" x2="77.5" y2="259.85"/>
<line x1="15.5" y1="261.35" x2="77.5" y2="261.35"/>
<line x1="15.5" y1="262.85" x2="77.5" y2="262.85"/>
<line x1="15.5" y1="264.35" x2="77.5" y2="264.35"/>
<line x1="15.5" y1="265.85" x2="77.5" y2="265.85"/>
<line x1="15.5" y1="267.35" x2="77.5" y2="267.35"/>
<line x1="15.5" y1="268.85" x2="77.5" y2="268.85"/>
<line x1="15.5" y1="270.35" x2="77.5" y2="270.35"/>
<line x1="15.5" y1="271.85" x2="77.5" y2="271.85"/>
<line x1="15.5" y1="273.35" x2="77.5" y2="273.35"/>
<line x1="15.5" y1="274.85" x2="77.5" y2="274.85"/>
<line x1="15.5" y1="276.35" x2="77.5" y2="276.35"/>
<line x1="15.5" y1="277.85" x2="77.5" y2="277.85"/>
<line x1="15.5" y1="279.35" x2="77.5" y2="279.35"/>
<line x1="15.5" y1="280.85" x2="77.5" y2="280.85"/>
<line x1="15.5" y1="282.35" x2="77.5" y2="282.35"/>
<line x1="15.5" y1="283.85" x2="77.5" y2="283.85"/>
</g>
<text x="14.00" y="240.00" font-size="2.2" fill="#555555" textLength="69.00" lengthAdjust="spacingAndGlyphs">1 2 3 4 5 6 7 8 9 10 11 12 13 14 15 16 17 18 19 20 21 22 23 24</text>
<text x="14.00" y="289.30" font-size="2.2" fill="#555555" textLength="69.00" lengthAdjust="spacingAndGlyphs">1 2 3 4 5 6 7 8 9 10 11 12 13 14 15 16 17 18 19 20 21 22 23 24</text>
<text x="11.90" y="242.60" font-size="2.2" fill="#555555" text-anchor="middle">A</text>
<text x="85.60" y="242.60" font-size="2.2" fill="#555555" text-anchor="middle">A</text>
<text x="11.90" y="245.46" font-size="2.2" fill="#555555" text-anchor="middle">B</text>
<text x="85.60" y="245.46" font-size="2.2" fill="#555555" text-anchor="middle">B</text>
<text x="11.90" y="248.32" font-size="2.2" fill="#555555" text-anchor="middle">C</text>
<text x="85.60" y="248.32" font-size="2.2" fill="#555555" text-anchor="middle">C</text>
<text x="11.90" y="251.18" font-size="2.2" fill="#555555" text-anchor="middle">D</text>
<text x="85.60" y="251.18" font-size="2.2" fill="#555555" text-anchor="middle">D</text>
<text x="11.90" y="254.04" font-size="2.2" fill="#555555" text-anchor="middle">E</text>
<text x="85.60" y="254.04" font-size="2.2" fill="#555555" text-anchor="middle">E</text>
<text x="11.90" y="256.90" font-size="2.2" fill="#555555" text-anchor="middle">F</text>
<text x="85.60" y="256.90" font-size="2.2" fill="#555555" text-anchor="middle">F</text>
<text x="11.90" y="259.76" font-size="2.2" fill="#555555" text-anchor="middle">G</text>
<text x="85.60" y="259.76" font-size="2.2" fill="#555555" text-anchor="middle">G</text>
<text x="11.90" y="262.62" font-size="2.2" fill="#555555" text-anchor="middle">H</text>
<text x="85.60" y="262.62" font-size="2.2" fill="#555555" text-anchor="middle">H</text>
<text x="11.90" y="265.48" font-size="2.2" fill="#555555" text-anchor="middle">I</text>
<text x="85.60" y="265.48" font-size="2.2" fill="#555555" text-anchor="middle">I</text>
<text x="11.90" y="268.34" font-size="2.2" fill="#555555" text-anchor="middle">J</text>
<text x="85.60" y="268.34" font-size="2.2" fill="#555555" text-anchor="middle">J</text>
<text x="11.90" y="271.20" font-size="2.2" fill="#555555" text-anchor="middle">K</text>
<text x="85.60" y="271.20" font-size="2.2" fill="#555555" text-anchor="middle">K</text>
<text x="11.90" y="274.06" font-size="2.2" fill="#555555" text-anchor="middle">L</text>
<text x="85.60" y="274.06" font-size="2.2" fill="#555555" text-anchor="middle">L</text>
<text x="11.90" y="276.92" font-size="2.2" fill="#555555" text-anchor="middle">M</text>
<text x="85.60" y="276.92" font-size="2.2" fill="#555555" text-anchor="middle">M</text>
<text x="11.90" y="279.78" font-size="2.2" fill="#555555" text-anchor="middle">N</text>
<text x="85.60" y="279.78" font-size="2.2" fill="#555555" text-anchor="middle">N</text>
<text x="11.90" y="282.64" font-size="2.2" fill="#555555" text-anchor="middle">O</text>
<text x="85.60" y="282.64" font-size="2.2" fill="#555555" text-anchor="middle">O</text>
<text x="11.90" y="285.50" font-size="2.2" fill="#555555" text-anchor="middle">P</text>
<text x="85.60" y="285.50" font-size="2.2" fill="#555555" text-anchor="middle">P</text>
<text x="27.10" y="256.10" font-size="8.8" fill="#26263a" text-anchor="middle" stroke="#26263a" stroke-width="0.15">1</text>
<text x="47.20" y="256.10" font-size="8.8" fill="#26263a" text-anchor="middle" stroke="#26263a" stroke-width="0.15">2</text>
<text x="67.30" y="256.10" font-size="8.8" fill="#26263a" text-anchor="middle" stroke="#26263a" stroke-width="0.15">3</text>
<text x="27.10" y="276.40" font-size="8.8" fill="#26263a" text-anchor="middle" stroke="#26263a" stroke-width="0.15">4</text>
<text x="47.20" y="276.40" font-size="8.8" fill="#26263a" text-anchor="middle" stroke="#26263a" stroke-width="0.15">5</text>
<text x="67.30" y="276.40" font-size="8.8" fill="#26263a" text-anchor="middle" stroke="#26263a" stroke-width="0.15">6</text>
<line x1="54.80" y1="298.30" x2="88.80" y2="317.40" stroke="#231f20" stroke-width="0.9"/>
<polygon points="87.70,319.50 92.40,319.50 90.30,315.50" fill="#231f20"/>
<rect x="125.20" y="192.20" width="6.75" height="6.75" fill="#6b0a18"/>
<rect x="131.90" y="192.20" width="6.75" height="6.75" fill="#6b0a18"/>
<rect x="138.60" y="192.20" width="6.75" height="6.75" fill="#6b0a18"/>
<rect x="145.30" y="192.20" width="6.75" height="6.75" fill="#6b0a18"/>
<rect x="152.00" y="192.20" width="6.75" height="6.75" fill="#6b0a18"/>
<rect x="158.70" y="192.20" width="6.75" height="6.75" fill="#6b0a18"/>
<rect x="125.20" y="198.90" width="6.75" height="6.75" fill="#6b0a18"/>
<rect x="131.90" y="198.90" width="6.75" height="6.75" fill="#6b0a18"/>
<rect x="138.60" y="198.90" width="6.75" height="6.75" fill="#6b0a18"/>
<rect x="145.30" y="198.90" width="6.75" height="6.75" fill="#6b0a18"/>
<rect x="152.00" y="198.90" width="6.75" height="6.75" fill="#6b0a18"/>
<rect x="158.70" y="198.90" width="6.75" height="6.75" fill="#6b0a18"/>
<rect x="125.20" y="205.60" width="6.75" height="6.75" fill="#f6a58c"/>
<rect x="131.90" y="205.60" width="6.75" height="6.75" fill="#6d0a18"/>
<rect x="138.60" y="205.60" width="6.75" height="6.75" fill="#6d0a18"/>
<rect x="145.30" y="205.60" width="6.75" height="6.75" fill="#700b18"/>
<rect x="152.00" y="205.60" width="6.75" height="6.75" fill="#860c1a"/>
<rect x="158.70" y="205.60" width="6.75" height="6.75" fill="#6d0a18"/>
<rect x="125.20" y="212.30" width="6.75" height="6.75" fill="#fbcfbe"/>
<rect x="131.90" y="212.30" width="6.75" height="6.75" fill="#f9b7a0"/>
<rect x="138.60" y="212.30" width="6.75" height="6.75" fill="#e3322f"/>
<rect x="145.30" y="212.30" width="6.75" height="6.75" fill="#7d0b18"/>
<rect x="152.00" y="212.30" width="6.75" height="6.75" fill="#6d0a18"/>
<rect x="158.70" y="212.30" width="6.75" height="6.75" fill="#6d0a18"/>
<rect x="125.20" y="219.00" width="6.75" height="6.75" fill="#f2f2f3"/>
<rect x="131.90" y="219.00" width="6.75" height="6.75" fill="#fcd7c7"/>
<rect x="138.60" y="219.00" width="6.75" height="6.75" fill="#fbcfb9"/>
<rect x="145.30" y="219.00" width="6.75" height="6.75" fill="#f05a40"/>
<rect x="152.00" y="219.00" width="6.75" height="6.75" fill="#7a0a18"/>
<rect x="158.70" y="219.00" width="6.75" height="6.75" fill="#6d0a18"/>
<rect x="125.20" y="225.70" width="6.75" height="6.75" fill="#f4f4f5"/>
<rect x="131.90" y="225.70" width="6.75" height="6.75" fill="#fde6dd"/>
<rect x="138.60" y="225.70" width="6.75" height="6.75" fill="#fcdccc"/>
<rect x="145.30" y="225.70" width="6.75" height="6.75" fill="#f9bea3"/>
<rect x="152.00" y="225.70" width="6.75" height="6.75" fill="#b01421"/>
<rect x="158.70" y="225.70" width="6.75" height="6.75" fill="#6d0a18"/>
<g stroke="#e8b4b4" stroke-width="0.6">
<line x1="131.90" y1="192.20" x2="131.90" y2="232.40"/>
<line x1="125.20" y1="198.90" x2="165.40" y2="198.90"/>
<line x1="138.60" y1="192.20" x2="138.60" y2="232.40"/>
<line x1="125.20" y1="205.60" x2="165.40" y2="205.60"/>
<line x1="145.30" y1="192.20" x2="145.30" y2="232.40"/>
<line x1="125.20" y1="212.30" x2="165.40" y2="212.30"/>
<line x1="152.00" y1="192.20" x2="152.00" y2="232.40"/>
<line x1="125.20" y1="219.00" x2="165.40" y2="219.00"/>
<line x1="158.70" y1="192.20" x2="158.70" y2="232.40"/>
<line x1="125.20" y1="225.70" x2="165.40" y2="225.70"/>
</g>
<rect x="197.20" y="192.20" width="6.75" height="6.75" fill="#f6f6f6"/>
<rect x="203.90" y="192.20" width="6.75" height="6.75" fill="#f6f6f6"/>
<rect x="210.60" y="192.20" width="6.75" height="6.75" fill="#f6f6f6"/>
<rect x="217.30" y="192.20" width="6.75" height="6.75" fill="#f6f6f6"/>
<rect x="224.00" y="192.20" width="6.75" height="6.75" fill="#f6f6f6"/>
<rect x="230.70" y="192.20" width="6.75" height="6.75" fill="#f6f6f6"/>
<rect x="197.20" y="198.90" width="6.75" height="6.75" fill="#f6f6f6"/>
<rect x="203.90" y="198.90" width="6.75" height="6.75" fill="#f6f6f6"/>
<rect x="210.60" y="198.90" width="6.75" height="6.75" fill="#f6f6f6"/>
<rect x="217.30" y="198.90" width="6.75" height="6.75" fill="#f6f6f6"/>
<rect x="224.00" y="198.90" width="6.75" height="6.75" fill="#f6f6f6"/>
<rect x="230.70" y="198.90" width="6.75" height="6.75" fill="#f6f6f6"/>
<rect x="197.20" y="205.60" width="6.75" height="6.75" fill="#f6f6f6"/>
<rect x="203.90" y="205.60" width="6.75" height="6.75" fill="#f27c5c"/>
<rect x="210.60" y="205.60" width="6.75" height="6.75" fill="#6a0a18"/>
<rect x="217.30" y="205.60" width="6.75" height="6.75" fill="#700b18"/>
<rect x="224.00" y="205.60" width="6.75" height="6.75" fill="#8e0e1c"/>
<rect x="230.70" y="205.60" width="6.75" height="6.75" fill="#f4a284"/>
<rect x="197.20" y="212.30" width="6.75" height="6.75" fill="#f6f6f6"/>
<rect x="203.90" y="212.30" width="6.75" height="6.75" fill="#f7f1f1"/>
<rect x="210.60" y="212.30" width="6.75" height="6.75" fill="#f6a48a"/>
<rect x="217.30" y="212.30" width="6.75" height="6.75" fill="#6a0a18"/>
<rect x="224.00" y="212.30" width="6.75" height="6.75" fill="#800c1a"/>
<rect x="230.70" y="212.30" width="6.75" height="6.75" fill="#f4a284"/>
<rect x="197.20" y="219.00" width="6.75" height="6.75" fill="#f6f6f6"/>
<rect x="203.90" y="219.00" width="6.75" height="6.75" fill="#f6f6f6"/>
<rect x="210.60" y="219.00" width="6.75" height="6.75" fill="#eef3f9"/>
<rect x="217.30" y="219.00" width="6.75" height="6.75" fill="#fce6d8"/>
<rect x="224.00" y="219.00" width="6.75" height="6.75" fill="#f06848"/>
<rect x="230.70" y="219.00" width="6.75" height="6.75" fill="#f49474"/>
<rect x="197.20" y="225.70" width="6.75" height="6.75" fill="#c2c2c2"/>
<rect x="203.90" y="225.70" width="6.75" height="6.75" fill="#f6f6f6"/>
<rect x="210.60" y="225.70" width="6.75" height="6.75" fill="#f6f6f6"/>
<rect x="217.30" y="225.70" width="6.75" height="6.75" fill="#f6f6f6"/>
<rect x="224.00" y="225.70" width="6.75" height="6.75" fill="#f6f6f6"/>
<rect x="230.70" y="225.70" width="6.75" height="6.75" fill="#f6f6f6"/>
<g stroke="#d6d6d6" stroke-width="0.6">
<line x1="203.90" y1="192.20" x2="203.90" y2="232.40"/>
<line x1="197.20" y1="198.90" x2="237.40" y2="198.90"/>
<line x1="210.60" y1="192.20" x2="210.60" y2="232.40"/>
<line x1="197.20" y1="205.60" x2="237.40" y2="205.60"/>
<line x1="217.30" y1="192.20" x2="217.30" y2="232.40"/>
<line x1="197.20" y1="212.30" x2="237.40" y2="212.30"/>
<line x1="224.00" y1="192.20" x2="224.00" y2="232.40"/>
<line x1="197.20" y1="219.00" x2="237.40" y2="219.00"/>
<line x1="230.70" y1="192.20" x2="230.70" y2="232.40"/>
<line x1="197.20" y1="225.70" x2="237.40" y2="225.70"/>
</g>
<rect x="197.20" y="192.20" width="40.20" height="40.20" fill="none" stroke="#7a7a7a" stroke-width="0.8"/>
<polygon points="114.40,192.40 122.60,192.40 122.40,232.20" fill="#4a4a4a"/>
<polygon points="125.20,234.30 165.20,234.30 165.20,241.30" fill="#4a4a4a"/>
<polygon points="186.40,192.40 194.40,192.40 194.20,232.20" fill="#4a4a4a"/>
<polygon points="197.40,234.30 237.60,234.30 237.60,241.30" fill="#4a4a4a"/>
<text x="131.60" y="190.50" font-size="8.6" fill="#231f20" stroke="#231f20" stroke-width="0.15" textLength="27.20" lengthAdjust="spacingAndGlyphs">Activity</text>
<text x="193.80" y="189.70" font-size="8.6" fill="#231f20" stroke="#231f20" stroke-width="0.15" textLength="47.80" lengthAdjust="spacingAndGlyphs">Excess Bliss</text>
<text x="113.20" y="219.20" font-size="8.4" fill="#231f20" stroke="#231f20" stroke-width="0.15" text-anchor="middle" textLength="25.60" lengthAdjust="spacingAndGlyphs" transform="rotate(-90 113.20 219.20)">Drug B</text>
<text x="185.20" y="219.20" font-size="8.4" fill="#231f20" stroke="#231f20" stroke-width="0.15" text-anchor="middle" textLength="25.60" lengthAdjust="spacingAndGlyphs" transform="rotate(-90 185.20 219.20)">Drug B</text>
<text x="131.20" y="247.30" font-size="8.4" fill="#231f20" stroke="#231f20" stroke-width="0.15" textLength="26.30" lengthAdjust="spacingAndGlyphs">Drug A</text>
<text x="203.90" y="247.30" font-size="8.4" fill="#231f20" stroke="#231f20" stroke-width="0.15" textLength="26.30" lengthAdjust="spacingAndGlyphs">Drug A</text>
<defs><linearGradient id="cb" x1="0" y1="1" x2="0" y2="0"><stop offset="0" stop-color="#ffffff"/><stop offset="0.1" stop-color="#fdf2ee"/><stop offset="0.28" stop-color="#fbd0c0"/><stop offset="0.45" stop-color="#f4937a"/><stop offset="0.58" stop-color="#e8503c"/><stop offset="0.7" stop-color="#c81c24"/><stop offset="0.82" stop-color="#8e0c1c"/><stop offset="1" stop-color="#5a0814"/></linearGradient></defs>
<rect x="244.20" y="192.40" width="4.60" height="47.00" fill="url(#cb)" stroke="#777777" stroke-width="0.6"/>
<line x1="248.80" y1="192.70" x2="251.70" y2="192.70" stroke="#333333" stroke-width="0.8"/>
<text x="254.20" y="195.60" font-size="6.6" fill="#333333" stroke="#333333" stroke-width="0.15">200</text>
<line x1="248.80" y1="217.30" x2="251.70" y2="217.30" stroke="#333333" stroke-width="0.8"/>
<text x="254.20" y="220.00" font-size="6.6" fill="#333333" stroke="#333333" stroke-width="0.15">100</text>
<line x1="248.80" y1="239.20" x2="251.70" y2="239.20" stroke="#333333" stroke-width="0.8"/>
<text x="254.20" y="241.60" font-size="6.6" fill="#333333" stroke="#333333" stroke-width="0.15">0</text>
<text x="100.40" y="275.40" font-size="8.5" font-weight="bold" fill="#231f20" stroke="#231f20" stroke-width="0.1" textLength="193.80" lengthAdjust="spacingAndGlyphs">Monitor growth rate, development of resistance</text>
<line x1="111.50" y1="286.20" x2="111.50" y2="369.60" stroke="#231f20" stroke-width="1.3"/>
<line x1="97.30" y1="352.10" x2="206.20" y2="352.10" stroke="#231f20" stroke-width="1.4"/>
<path d="M116.5,325.4 C120,309 125,295.4 131.9,295.4 C139,295.4 147,318 155.2,351.4" fill="none" stroke="#f2a189" stroke-width="1.1"/>
<path d="M116.2,306.9 C118.5,299 121.5,294.6 125.2,294.6 C132,294.6 141,320 148.2,351.4" fill="none" stroke="#231f20" stroke-width="1.2"/>
<path d="M116.5,351.2 L154.4,351.2 C160,351 164,312.6 174.6,312.6 C184,312.6 190,349.5 200.8,351.2 L205.6,351.2" fill="none" stroke="#5e0f22" stroke-width="1.3"/>
<circle cx="122.7" cy="350.8" r="1.4" fill="#231f20"/>
<circle cx="174.6" cy="312.7" r="1.4" fill="#231f20"/>
<text x="114.2" y="345.4" font-size="8.5" fill="#6c1c30">Rate<tspan font-size="6.2" dy="2.6">Init</tspan></text>
<text x="164.9" y="307.7" font-size="8.5" fill="#6c1c30">Rate<tspan font-size="6.2" dy="2.9">Max</tspan></text>
<text x="107.50" y="326.70" font-size="8.4" fill="#231f20" stroke="#231f20" stroke-width="0.15" text-anchor="middle" textLength="45.60" lengthAdjust="spacingAndGlyphs" transform="rotate(-90 107.50 326.70)">Growth rate</text>
<text x="146.70" y="363.30" font-size="8.5" fill="#231f20" stroke="#231f20" stroke-width="0.15" textLength="18.30" lengthAdjust="spacingAndGlyphs">Time</text>
<text x="206.90" y="289.60" font-size="8.5" fill="#231f20" stroke="#231f20" stroke-width="0.15">Control</text>
<text x="206.90" y="299.20" font-size="8.5" fill="#f2aa90" stroke="#f2aa90" stroke-width="0.15">Low activity</text>
<text x="206.90" y="308.80" font-size="8.5" fill="#471226" stroke="#471226" stroke-width="0.15">High activity</text>
<line x1="189.20" y1="315.70" x2="208.20" y2="323.30" stroke="#231f20" stroke-width="0.9"/>
<polygon points="207.00,325.70 211.90,325.00 209.00,321.30" fill="#231f20"/>
<rect x="203.10" y="328.60" width="96.00" height="19.50" fill="#c5c5c5"/>
<text x="218.00" y="335.80" font-size="8.5" fill="#231f20" stroke="#231f20" stroke-width="0.15" textLength="61.60" lengthAdjust="spacingAndGlyphs">Delayed peak in</text>
<text x="204.60" y="345.60" font-size="8.5" fill="#231f20" stroke="#231f20" stroke-width="0.15" textLength="91.40" lengthAdjust="spacingAndGlyphs">growth rate = resistance</text>
<rect x="105.40" y="373.90" width="191.70" height="13.40" fill="#c5c5c5"/>
<text x="109.8" y="382.5" font-size="8.5" fill="#231f20" textLength="184.5" lengthAdjust="spacingAndGlyphs">Rate<tspan font-size="6.2" dy="2.4">Max</tspan><tspan dy="-2.4"> – Rate</tspan><tspan font-size="6.2" dy="2.4">Init</tspan><tspan dy="-2.4"> = Fitness benefit of resistance</tspan></text>
<text x="0.60" y="425.20" font-size="10.4" font-weight="bold" fill="#231f20" stroke="#231f20" stroke-width="0.35">E</text>
<text x="37.00" y="426.20" font-size="8.5" font-weight="bold" fill="#231f20" stroke="#231f20" stroke-width="0.1" textLength="28.50" lengthAdjust="spacingAndGlyphs">Drug A</text>
<text x="108.80" y="426.20" font-size="8.5" font-weight="bold" fill="#231f20" stroke="#231f20" stroke-width="0.1" textLength="29.40" lengthAdjust="spacingAndGlyphs">Drug B</text>
<text x="176.40" y="426.20" font-size="8.5" font-weight="bold" fill="#231f20" stroke="#231f20" stroke-width="0.1" textLength="44.10" lengthAdjust="spacingAndGlyphs">Interaction</text>
<line x1="15.30" y1="431.60" x2="243.50" y2="431.60" stroke="#231f20" stroke-width="1.35"/>
<line x1="15.30" y1="451.20" x2="243.50" y2="451.20" stroke="#231f20" stroke-width="1.35"/>
<line x1="15.30" y1="470.50" x2="243.50" y2="470.50" stroke="#231f20" stroke-width="1.35"/>
<line x1="15.30" y1="489.60" x2="243.50" y2="489.60" stroke="#231f20" stroke-width="1.35"/>
<line x1="15.30" y1="508.60" x2="243.50" y2="508.60" stroke="#231f20" stroke-width="1.35"/>
<line x1="15.30" y1="527.80" x2="243.50" y2="527.80" stroke="#231f20" stroke-width="1.35"/>
<line x1="15.30" y1="550.00" x2="379.50" y2="550.00" stroke="#231f20" stroke-width="1.35"/>
<line x1="15.90" y1="431.60" x2="15.90" y2="550.00" stroke="#231f20" stroke-width="1.35"/>
<line x1="87.80" y1="431.60" x2="87.80" y2="550.00" stroke="#231f20" stroke-width="1.35"/>
<line x1="158.20" y1="431.60" x2="158.20" y2="550.00" stroke="#231f20" stroke-width="1.35"/>
<line x1="243.50" y1="431.00" x2="243.50" y2="557.60" stroke="#231f20" stroke-width="1.35"/>
<text x="51.85" y="445.50" font-size="8.5" fill="#231f20" stroke="#231f20" stroke-width="0.15" text-anchor="middle">Venetoclax</text>
<text x="123.00" y="445.50" font-size="8.5" fill="#231f20" stroke="#231f20" stroke-width="0.15" text-anchor="middle">AZD5991</text>
<text x="198.85" y="444.30" font-size="8.5" fill="#231f20" stroke="#231f20" stroke-width="0.15" text-anchor="middle">Synergy</text>
<text x="51.85" y="464.50" font-size="8.5" fill="#231f20" stroke="#231f20" stroke-width="0.15" text-anchor="middle">Cytarabine</text>
<text x="123.00" y="464.50" font-size="8.5" fill="#231f20" stroke="#231f20" stroke-width="0.15" text-anchor="middle">Venetoclax</text>
<text x="198.85" y="463.30" font-size="8.5" fill="#231f20" stroke="#231f20" stroke-width="0.15" text-anchor="middle">Synergy</text>
<text x="51.85" y="483.70" font-size="8.5" fill="#231f20" stroke="#231f20" stroke-width="0.15" text-anchor="middle">Cytarabine</text>
<text x="123.00" y="483.70" font-size="8.5" fill="#231f20" stroke="#231f20" stroke-width="0.15" text-anchor="middle">AZD1775</text>
<text x="198.85" y="482.50" font-size="8.5" fill="#231f20" stroke="#231f20" stroke-width="0.15" text-anchor="middle">Synergy</text>
<text x="51.85" y="502.80" font-size="8.5" fill="#231f20" stroke="#231f20" stroke-width="0.15" text-anchor="middle">Cytarabine</text>
<text x="123.00" y="502.80" font-size="8.5" fill="#231f20" stroke="#231f20" stroke-width="0.15" text-anchor="middle">AZD5991</text>
<text x="200.55" y="501.60" font-size="8.5" fill="#231f20" stroke="#231f20" stroke-width="0.15" text-anchor="middle">Weak syn/additivity</text>
<text x="51.85" y="522.10" font-size="8.5" fill="#231f20" stroke="#231f20" stroke-width="0.15" text-anchor="middle">Venetoclax</text>
<text x="123.00" y="522.10" font-size="8.5" fill="#231f20" stroke="#231f20" stroke-width="0.15" text-anchor="middle">AZD1775</text>
<text x="198.85" y="520.90" font-size="8.5" fill="#231f20" stroke="#231f20" stroke-width="0.15" text-anchor="middle">Additivity</text>
<text x="51.85" y="541.90" font-size="8.5" fill="#231f20" stroke="#231f20" stroke-width="0.15" text-anchor="middle">AZD5991</text>
<text x="123.00" y="541.90" font-size="8.5" fill="#231f20" stroke="#231f20" stroke-width="0.15" text-anchor="middle">AZD1775</text>
<text x="198.85" y="540.70" font-size="8.5" fill="#231f20" stroke="#231f20" stroke-width="0.15" text-anchor="middle">Additivity</text>
<rect x="243.50" y="435.20" width="98.40" height="14.30" fill="#000000"/>
<line x1="341.90" y1="442.35" x2="348.80" y2="442.35" stroke="#231f20" stroke-width="1.0"/>
<line x1="348.80" y1="438.25" x2="348.80" y2="446.45" stroke="#231f20" stroke-width="1.1"/>
<rect x="243.50" y="453.80" width="54.60" height="13.50" fill="#222222"/>
<line x1="298.10" y1="460.55" x2="306.50" y2="460.55" stroke="#231f20" stroke-width="1.0"/>
<line x1="306.50" y1="456.45" x2="306.50" y2="464.65" stroke="#231f20" stroke-width="1.1"/>
<rect x="243.50" y="472.20" width="37.10" height="13.60" fill="#222222"/>
<line x1="280.60" y1="479.00" x2="290.20" y2="479.00" stroke="#231f20" stroke-width="1.0"/>
<line x1="290.20" y1="474.90" x2="290.20" y2="483.10" stroke="#231f20" stroke-width="1.1"/>
<rect x="243.50" y="492.00" width="26.10" height="13.40" fill="#222222"/>
<line x1="269.60" y1="498.70" x2="280.30" y2="498.70" stroke="#231f20" stroke-width="1.0"/>
<line x1="280.30" y1="494.60" x2="280.30" y2="502.80" stroke="#231f20" stroke-width="1.1"/>
<rect x="243.50" y="511.60" width="8.70" height="13.70" fill="#222222"/>
<line x1="252.20" y1="518.45" x2="256.80" y2="518.45" stroke="#231f20" stroke-width="1.0"/>
<line x1="256.80" y1="514.35" x2="256.80" y2="522.55" stroke="#231f20" stroke-width="1.1"/>
<rect x="243.50" y="531.50" width="8.00" height="13.70" fill="#222222"/>
<line x1="251.50" y1="538.35" x2="258.10" y2="538.35" stroke="#231f20" stroke-width="1.0"/>
<line x1="258.10" y1="534.25" x2="258.10" y2="542.45" stroke="#231f20" stroke-width="1.1"/>
<line x1="267.90" y1="506.50" x2="267.90" y2="549.00" stroke="#777777" stroke-width="0.7" stroke-dasharray="1.2 1.2"/>
<line x1="243.50" y1="549.40" x2="243.50" y2="557.60" stroke="#231f20" stroke-width="1.25"/>
<text x="243.50" y="568.50" font-size="8.0" fill="#231f20" stroke="#231f20" stroke-width="0.15" text-anchor="middle">0</text>
<line x1="267.82" y1="549.40" x2="267.82" y2="557.60" stroke="#231f20" stroke-width="1.25"/>
<text x="267.82" y="568.50" font-size="8.0" fill="#231f20" stroke="#231f20" stroke-width="0.15" text-anchor="middle">5</text>
<line x1="292.14" y1="549.40" x2="292.14" y2="557.60" stroke="#231f20" stroke-width="1.25"/>
<text x="292.14" y="568.50" font-size="8.0" fill="#231f20" stroke="#231f20" stroke-width="0.15" text-anchor="middle">10</text>
<line x1="316.46" y1="549.40" x2="316.46" y2="557.60" stroke="#231f20" stroke-width="1.25"/>
<text x="316.46" y="568.50" font-size="8.0" fill="#231f20" stroke="#231f20" stroke-width="0.15" text-anchor="middle">15</text>
<line x1="340.78" y1="549.40" x2="340.78" y2="557.60" stroke="#231f20" stroke-width="1.25"/>
<text x="340.78" y="568.50" font-size="8.0" fill="#231f20" stroke="#231f20" stroke-width="0.15" text-anchor="middle">20</text>
<line x1="365.10" y1="549.40" x2="365.10" y2="557.60" stroke="#231f20" stroke-width="1.25"/>
<text x="365.10" y="568.50" font-size="8.0" fill="#231f20" stroke="#231f20" stroke-width="0.15" text-anchor="middle">25</text>
<text x="267.30" y="580.60" font-size="8.5" fill="#231f20" stroke="#231f20" stroke-width="0.15" textLength="74.10" lengthAdjust="spacingAndGlyphs">Bliss synergy score</text>
</svg>
</body></html>
